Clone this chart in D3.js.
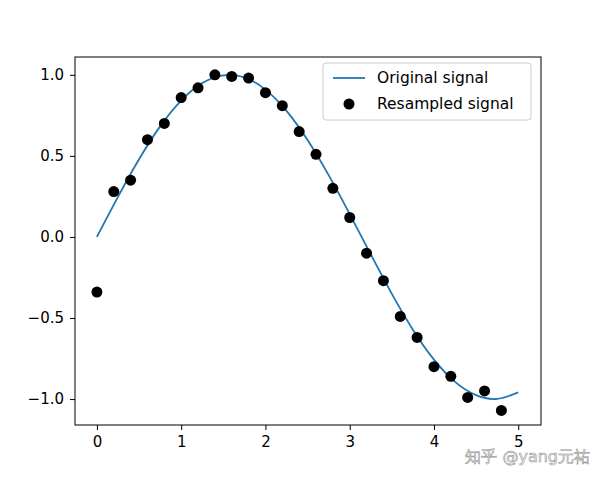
<!DOCTYPE html>
<html>
<head>
<meta charset="utf-8">
<script src="https://cdn.jsdelivr.net/npm/d3@7"></script>
<style>
body { margin: 0; background: #fff; }
svg text { font-family: "DejaVu Sans", sans-serif; }
</style>
</head>
<body>
<div id="chart-area"></div>
<script>
// original signal, read at 0.25 steps
var lineX = [0, 0.25, 0.5, 0.75, 1, 1.25, 1.5, 1.75, 2, 2.25, 2.5, 2.75, 3, 3.25, 3.5, 3.75, 4, 4.25, 4.5, 4.75, 5];
var lineY = [0, 0.247, 0.479, 0.682, 0.841, 0.949, 0.997, 0.984, 0.909, 0.778, 0.598, 0.381, 0.141, -0.108, -0.351, -0.572, -0.757, -0.894, -0.976, -0.999, -0.959];

// resampled points
var sampX = [0, 0.2, 0.4, 0.6, 0.8, 1.0, 1.2, 1.4, 1.6, 1.8, 2.0, 2.2, 2.4, 2.6, 2.8, 3.0, 3.2, 3.4, 3.6, 3.8, 4.0, 4.2, 4.4, 4.6, 4.8];
var sampY = [-0.34, 0.28, 0.35, 0.60, 0.70, 0.86, 0.92, 1.00, 0.99, 0.98, 0.89, 0.81, 0.65, 0.51, 0.30, 0.12, -0.10, -0.27, -0.49, -0.62, -0.80, -0.86, -0.99, -0.95, -1.07];

var xTicks = [0, 1, 2, 3, 4, 5];
var yTicks = [-1.0, -0.5, 0.0, 0.5, 1.0];

var margin = {top: 57, right: 59, bottom: 55, left: 75};
var width = 600 - margin.left - margin.right;
var height = 480 - margin.top - margin.bottom;

var svg = d3.select("#chart-area").append("svg")
    .attr("width", 600)
    .attr("height", 480);

var g = svg.append("g")
    .attr("transform", "translate(" + margin.left + "," + margin.top + ")");

var x = d3.scaleLinear().domain([-0.26, 5.27]).range([0, width]);
var y = d3.scaleLinear().domain([-1.16, 1.11]).range([height, 0]);

var xAxis = g.append("g")
    .attr("transform", "translate(0," + height + ")")
    .call(d3.axisBottom(x).tickValues(xTicks).tickFormat(d3.format("d")).tickSize(5).tickPadding(6));
var yAxis = g.append("g")
    .call(d3.axisLeft(y).tickValues(yTicks).tickFormat(d3.format(".1f")).tickSize(5).tickPadding(6));
[xAxis, yAxis].forEach(function(a) {
    a.select(".domain").remove();
    a.selectAll("text").attr("font-size", "15px").attr("fill", "#000")
        .text(function() { return this.textContent.replace("-", "\u2212"); });
    a.selectAll("line").attr("stroke", "#000");
});

g.append("rect")
    .attr("width", width).attr("height", height)
    .attr("fill", "none").attr("stroke", "#000").attr("stroke-width", 1);

var line = d3.line()
    .x(function(d, i) { return x(lineX[i]); })
    .y(function(d) { return y(d); })
    .curve(d3.curveNatural);

g.append("path")
    .attr("d", line(lineY))
    .attr("fill", "none")
    .attr("stroke", "#1f77b4")
    .attr("stroke-width", 1.8);

g.selectAll("circle.pt").data(sampY).enter().append("circle")
    .attr("class", "pt")
    .attr("cx", function(d, i) { return x(sampX[i]); })
    .attr("cy", function(d) { return y(d); })
    .attr("r", 5.5)
    .attr("fill", "#000");

// legend
var lg = svg.append("g").attr("transform", "translate(323,63)");
lg.append("rect").attr("width", 208).attr("height", 57).attr("rx", 3)
    .attr("fill", "#fff").attr("stroke", "#ccc");
lg.append("line").attr("x1", 10).attr("x2", 42).attr("y1", 15).attr("y2", 15)
    .attr("stroke", "#1f77b4").attr("stroke-width", 1.8);
lg.append("circle").attr("cx", 26).attr("cy", 41).attr("r", 5.5).attr("fill", "#000");
lg.append("text").attr("x", 54).attr("y", 20).attr("font-size", "15.5px").text("Original signal");
lg.append("text").attr("x", 54).attr("y", 46).attr("font-size", "15.5px").text("Resampled signal");

// watermark
svg.append("text")
    .attr("x", 590).attr("y", 462)
    .attr("text-anchor", "end")
    .attr("font-size", "16px")
    .attr("font-family", "Noto Sans CJK SC")
    .attr("fill", "#f4f4f4")
    .attr("stroke", "#999")
    .attr("stroke-width", 0.6)
    .text("知乎 @yang元祐");
</script>
</body>
</html>
